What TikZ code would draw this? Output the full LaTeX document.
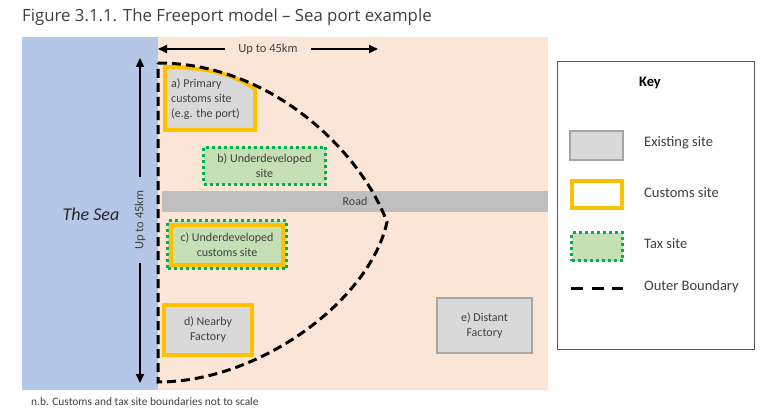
\documentclass[tikz,border=0pt]{standalone}
\usepackage{fontspec}
\setmainfont{Carlito}
\newfontfamily\titlefont{Open Sans}
\usepackage{tikz}
\usetikzlibrary{arrows.meta,positioning}
\definecolor{seablue}{RGB}{180,199,231}
\definecolor{landpeach}{RGB}{251,229,214}
\definecolor{sitegray}{RGB}{217,217,217}
\definecolor{siteedge}{RGB}{166,166,166}
\definecolor{roadgray}{RGB}{191,191,191}
\definecolor{customsorange}{RGB}{255,192,0}
\definecolor{taxgreen}{RGB}{0,176,80}
\definecolor{taxfill}{RGB}{197,224,180}
\definecolor{labeltext}{RGB}{64,64,64}
\definecolor{keyedge}{RGB}{89,89,89}

\begin{document}
\begin{tikzpicture}[x=1pt, y=-1pt,
    box/.style 2 args={minimum width=#1, minimum height=#2, inner sep=0pt},
    existing/.style={draw=siteedge, line width=1.5pt, fill=sitegray},
    customs/.style={draw=customsorange, line width=4pt},
    taxsite/.style={draw=taxgreen, fill=taxfill, line width=3pt, dash pattern=on 3pt off 3pt},
    boundary/.style={line width=3pt, dash pattern=on 9pt off 5pt},
    sitelabel/.style={text=labeltext, align=center, font=\fontsize{12}{15}\selectfont},
    keylabel/.style={text=labeltext, anchor=mid west, inner sep=0pt, font=\fontsize{14.5}{17}\selectfont},
    dimlabel/.style={text=labeltext, inner sep=0pt, inner xsep=13pt, font=\fontsize{12.5}{15}\selectfont},
    dimarrow/.style={line width=2pt, -{Triangle[length=9pt, width=8pt]}}]
    \useasboundingbox (0,0) rectangle (768,414);
    \fill[white] (0,0) rectangle (768,414);
    % Title
    \node[anchor=base west, inner sep=0pt, text=labeltext,
      font=\titlefont\fontsize{16.8}{19}\selectfont] (title) at (22,22)
      {Figure 3.1.1. The Freeport model – Sea port example};
    % Sea and land
    \fill[seablue] (22,37) rectangle (158,390);
    \fill[landpeach] (158,37) rectangle (548,390);
    \node[font=\fontsize{18}{20}\selectfont\itshape, text=black!85] (sea) at (91,214) {The Sea};
    % Road
    \node[fill=roadgray, box={386pt}{21pt}, sitelabel] (road) at (355,201.5) {Road};
    % a) Primary customs site
    \filldraw[customs, fill=sitegray] (165,130) -- (165,67)
      .. controls (213,67) and (238,77) .. (255,89) -- (255,130) -- cycle;
    \node[sitelabel, align=left, anchor=west, inner sep=0pt] (port) at (171,99)
      {a) Primary\\customs site\\(e.g. the port)};
    % b) Underdeveloped site
    \node[taxsite, box={122pt}{37pt}, sitelabel] (taxb) at (264.5,166) {b) Underdeveloped\\site};
    % c) Underdeveloped customs site
    \node[taxsite, box={119pt}{48pt}] (taxc) at (227,244.5) {};
    \node[customs, fill=taxfill, box={112pt}{40pt}, sitelabel] (custc) at (taxc.center)
      {c) Underdeveloped\\customs site};
    % d) and e) factories
    \node[customs, fill=sitegray, box={88pt}{50pt}, sitelabel] (nearby) at (208,330) {d) Nearby\\Factory};
    \node[existing, box={95pt}{55pt}, sitelabel] (distant) at (484.5,325.5) {e) Distant\\Factory};
    % Outer boundary
    \draw[boundary] (158,63) .. controls (270,63) and (360,150) .. (387,222)
      .. controls (370,300) and (260,382) .. (158,382) -- cycle;
    % Distances
    \node[dimlabel] (widthlabel) at (268,49) {Up to 45km};
    \coordinate (widthleft) at (158,49);
    \coordinate (widthright) at (378,49);
    \draw[dimarrow] (widthlabel.west) -- (widthleft);
    \draw[dimarrow] (widthlabel.east) -- (widthright);
    \node[dimlabel, rotate=90] (heightlabel) at (140,220) {Up to 45km};
    \coordinate (heighttop) at (140,58);
    \coordinate (heightbottom) at (140,383);
    \draw[dimarrow] (heightlabel.east) -- (heighttop);
    \draw[dimarrow] (heightlabel.west) -- (heightbottom);
    % Key
    \node[draw=keyedge, line width=1pt, fill=white, box={197pt}{287pt}] (key) at (655.5,205.5) {};
    \node[text=black, font=\fontsize{14.5}{17}\selectfont\bfseries] (keytitle) at (650,83) {Key};
    \node[existing, box={53pt}{29pt}] (keyexisting) at (596.5,145.5) {};
    \node[keylabel] (keyexistinglabel) at (644,144) {Existing site};
    \node[customs, fill=white, box={50pt}{27pt}] (keycustoms) at (597,194.5) {};
    \node[keylabel] (keycustomslabel) at (644,195) {Customs site};
    \node[taxsite, box={51pt}{28pt}] (keytax) at (597,246.5) {};
    \node[keylabel] (keytaxlabel) at (644,246) {Tax site};
    \coordinate (keydashleft) at (571,288);
    \coordinate (keydashright) at (623,288);
    \draw[boundary, dash pattern=on 12pt off 8.5pt] (keydashleft) -- (keydashright);
    \node[keylabel] (keyboundarylabel) at (644,288) {Outer Boundary};
    % Note
    \node[anchor=base west, inner sep=0pt, text=labeltext, font=\fontsize{11.4}{13}\selectfont]
      (note) at (31,405) {n.b. Customs and tax site boundaries not to scale};
\end{tikzpicture}
\end{document}
